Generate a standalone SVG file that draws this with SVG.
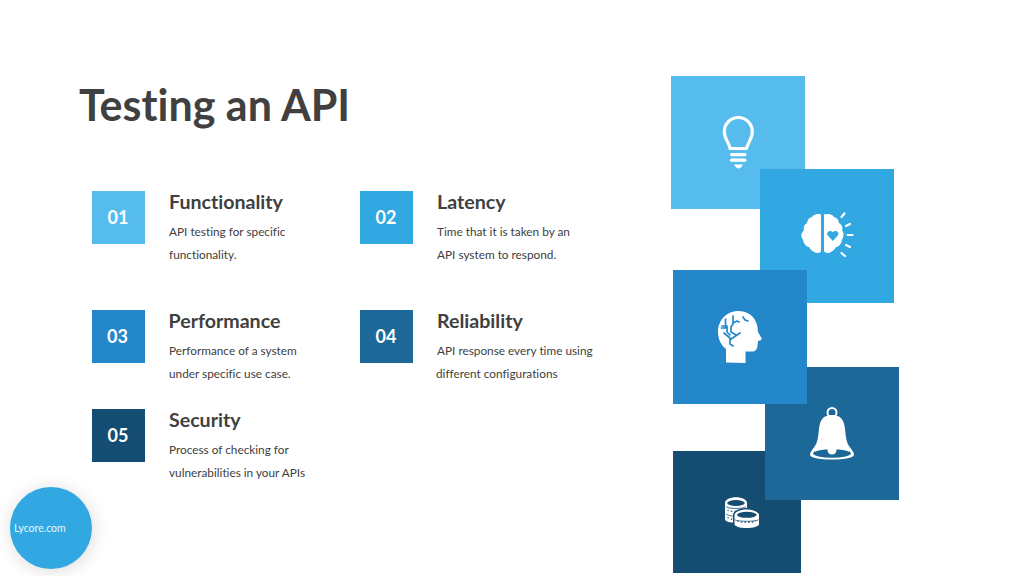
<svg xmlns="http://www.w3.org/2000/svg" width="1024" height="576" viewBox="0 0 1024 576">
<defs>
<filter id="sh" x="-40%" y="-40%" width="180%" height="180%"><feGaussianBlur stdDeviation="9"/></filter>
</defs>
<style>
text{font-family:"Lato","Open Sans","Liberation Sans",sans-serif;font-variant-ligatures:none}
.t{font-size:43px;font-weight:700;fill:#404040}
.h{font-size:19.600px;font-weight:700;fill:#404040}
.b{font-size:11.800px;fill:#404040}
.n{font-size:18px;font-weight:700;fill:#fff;text-anchor:middle}
.c1{fill:#56BCEE}.c2{fill:#31A8E2}.c3{fill:#2387CA}.c4{fill:#1C6899}.c5{fill:#154D72}
.w{fill:#fff}
.ws{fill:none;stroke:#fff;stroke-linecap:round;stroke-linejoin:round}
.dots{fill:none;stroke:#154D72;stroke-width:1.300;stroke-dasharray:1.400 2.200}
</style>
<rect width="1024" height="576" fill="#fff"/>
<text class="t" x="79" y="121">Testing an API</text>

<g id="item-01"><rect class="c1" x="92" y="191" width="53" height="53"/><text class="n" x="118" y="224">01</text>
<text class="h" x="169" y="209">Functionality</text><text class="b" x="169" y="236">API testing for specific</text><text class="b" x="169" y="259">functionality.</text></g>
<g id="item-02"><rect class="c2" x="360" y="191" width="53" height="53"/><text class="n" x="386" y="224">02</text>
<text class="h" x="437" y="209">Latency</text><text class="b" x="437" y="236">Time that it is taken by an</text><text class="b" x="437" y="259">API system to respond.</text></g>
<g id="item-03"><rect class="c3" x="92" y="310" width="53" height="53"/><text class="n" x="117.500" y="343">03</text>
<text class="h" x="168.500" y="328">Performance</text><text class="b" x="169" y="355">Performance of a system</text><text class="b" x="169" y="378">under specific use case.</text></g>
<g id="item-04"><rect class="c4" x="360" y="310" width="53" height="53"/><text class="n" x="386" y="343">04</text>
<text class="h" x="437" y="328">Reliability</text><text class="b" x="437" y="355">API response every time using</text><text class="b" x="436" y="378">different configurations</text></g>
<g id="item-05"><rect class="c5" x="92" y="409" width="53" height="53"/><text class="n" x="118" y="442">05</text>
<text class="h" x="169" y="427">Security</text><text class="b" x="169" y="454">Process of checking for</text><text class="b" x="169" y="477">vulnerabilities in your APIs</text></g>

<g id="badge">
<circle cx="52" cy="530" r="41" fill="#000" opacity=".14" filter="url(#sh)"/>
<circle class="c2" cx="51" cy="528" r="41"/>
<text x="14" y="532" font-size="10.500" fill="#E8F5FC">Lycore.com</text>
</g>

<g id="tile-bulb">
<rect class="c1" x="671" y="76" width="134" height="133"/>
<path class="ws" stroke-width="3.200" d="M730 148.500C729 142 724.300 139 724.300 131.500a14 14 0 0 1 28 0C752.300 139 748 142 746.500 148.500Z"/>
<rect class="w" x="730" y="153" width="16.500" height="3.200" rx="1.500"/>
<rect class="w" x="730" y="158.500" width="16.500" height="3.200" rx="1.500"/>
<path class="w" d="M734 164.500h9c-1 2-3 4-4.500 4s-3.500-2-4.500-4Z"/>
</g>
<g id="tile-brain">
<rect class="c2" x="760" y="169" width="134" height="134"/>
<path class="w" d="M821 214.500c-3-1-7-.5-9 2.500-3 .5-4.500 3-5 6-3 1.500-4 5-3 7.500-3 2-3.500 6.500-1 9 .5 4 3 7 6 7.500 2 3.500 5.500 6 9 6 2 0 3-1 3-2.500v-32.500c0-2-.2-3.500 0-4.500Z"/>
<path class="w" d="M825 214.500c3-1 7-.5 9 2.500 3 .5 4.500 3 5 6 3 1.500 4 5 3 7.500 2 2 2 6.500 0 9-.5 4-2.500 7-6 7.500-2 3.500-5.500 6-8.500 6-2 0-3.500-1-3.500-2.500v-36c0-.5.500-.5 1-.5Z"/>
<path class="c2" d="M832.800 241l-5-5.500c-2.200-3 2-6.500 5-3.300 3-3.200 7.200.3 5 3.300Z"/>
<path class="ws" stroke-width="2.200" d="M841.500 217l3-3.500M846 226l4-2M847.500 235h5M846 245l4 2M841.500 253l3.500 3"/>
</g>
<g id="tile-coins">
<rect class="c5" x="673" y="451" width="128" height="122"/>
<path class="w" d="M725 503c0-3.500 5-5.800 11-5.800s11 2.300 11 5.800v10h-9v9.500h-5c-4.500 0-8-1.500-8-3.500Z"/>
<ellipse class="c5" cx="736" cy="503" rx="8.800" ry="3"/>
<path class="dots" d="M727.500 510c3 2 14 2 17 0M727.500 517.500c1.500 1 4 1.500 6 1.700"/>
<path d="M726 506.800c3 2.200 17 2.200 20 0M726 514c2 1.500 5 2 8 2.200" fill="none" stroke="#154D72" stroke-width=".8"/>
<path class="c5" d="M733 515c0-4 6-7 13.500-7s14.500 3 14.500 7v9c0 3-7 5.500-14.500 5.500S733 527 733 524Z"/>
<path class="w" d="M734.500 515c0-3 5.500-5.500 12-5.500s12.500 2.500 12.500 5.500v9c0 2.500-6 4-12.500 4s-12-1.500-12-4Z"/>
<ellipse class="c5" cx="746.800" cy="514.800" rx="9.800" ry="3"/>
<path class="dots" d="M737.500 521c3 1.700 15.500 1.700 18.500 0"/>
<path d="M735 519.800c3 2 20 2 23.500 0" fill="none" stroke="#154D72" stroke-width=".8"/>
</g>
<g id="tile-bell">
<rect class="c4" x="765" y="367" width="134" height="133"/>
<circle class="ws" cx="832" cy="412.500" r="4.500" stroke-width="2"/>
<path class="w" d="M832 415c-9 0-12 5-13 14-1 9-1.500 13-4 17-2 3-5 6-5 8.500 0 3.500 9 5 22 5s22-1.500 22-5c0-2.500-3-5.500-5-8.500-2.500-4-3-8-4-17-1-9-4-14-13-14Z"/>
<ellipse class="c4" cx="832" cy="453.500" rx="19" ry="4.200"/>
<path class="w" d="M827.500 447h9v3a4.500 4.500 0 0 1-9 0Z"/>
</g>
<g id="tile-head">
<rect class="c3" x="673" y="270" width="134" height="134"/>
<path class="w" d="M726 362.500v-13.500c-5-4-8-10-8-17 0-12 9-21 20-21 10 0 17 5.500 19 14 1 3 .5 5.500 1 7l3.500 6c.5 1.500-.5 2.500-3.500 3-.5 4-.5 8-2.500 9.500-2 1.500-6 1-10 1v11.500Z"/>
<g fill="none" stroke="#2387CA" stroke-width="1.700" stroke-linecap="round" stroke-linejoin="round">
<path d="M725.500 319v9h-4M722 326h5v6l3 3M733 316v8l-2 3v5l5 3M733 323l4-2 2 1M724 333l6 5v6l3 2M731 339l6-4 3-2M743 317l2 3 3 1"/>
</g>
</g>
</svg>
